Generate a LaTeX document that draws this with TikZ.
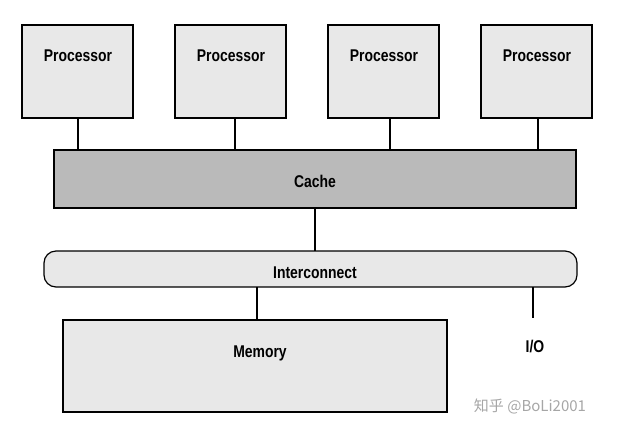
\documentclass[tikz,border=0pt]{standalone}
\usepackage{fontspec}
\setmainfont{Liberation Sans}[FakeStretch=0.82]
\newfontfamily\cjk{Noto Sans CJK SC}
\begin{document}
\begin{tikzpicture}[x=1pt,y=-1pt,
  box/.style={draw=black,line width=1.2pt,fill=black!9},
  lbl/.style={font=\bfseries\fontsize{17}{19}\selectfont},
  wire/.style={line width=1.6pt}]
\useasboundingbox (0,0) rectangle (617,432);
\foreach \x/\n in {22/p1,175/p2,328/p3,481/p4}{
  \draw[box] (\x,25) rectangle (\x+111,118);
  \node[lbl] (\n) at (\x+56,56) {Processor};
  \coordinate (\n b) at (\x+56,118);
}
\draw[box,fill=black!27] (54,150) rectangle (576,208);
\node[lbl] (cache) at (315,181) {Cache};
\draw[box,rounded corners=12pt] (44,251) rectangle (577,287);
\node[lbl] (ic) at (315,273) {Interconnect};
\draw[box] (63,320) rectangle (447,412);
\node[lbl] (mem) at (260,353) {Memory};
\node[lbl] (io) at (535,346) {I/O};
\foreach \x in {78,235,390,538}{\draw[wire] (\x,118) -- (\x,150);}
\draw[wire] (315,208) -- (315,251);
\draw[wire] (257,287) -- (257,320);
\draw[wire] (533,287) -- (533,318);
\node[text=black!35,font=\cjk\fontsize{15}{17}\selectfont] (wm) at (530,406) {知乎 @BoLi2001};
\end{tikzpicture}
\end{document}
